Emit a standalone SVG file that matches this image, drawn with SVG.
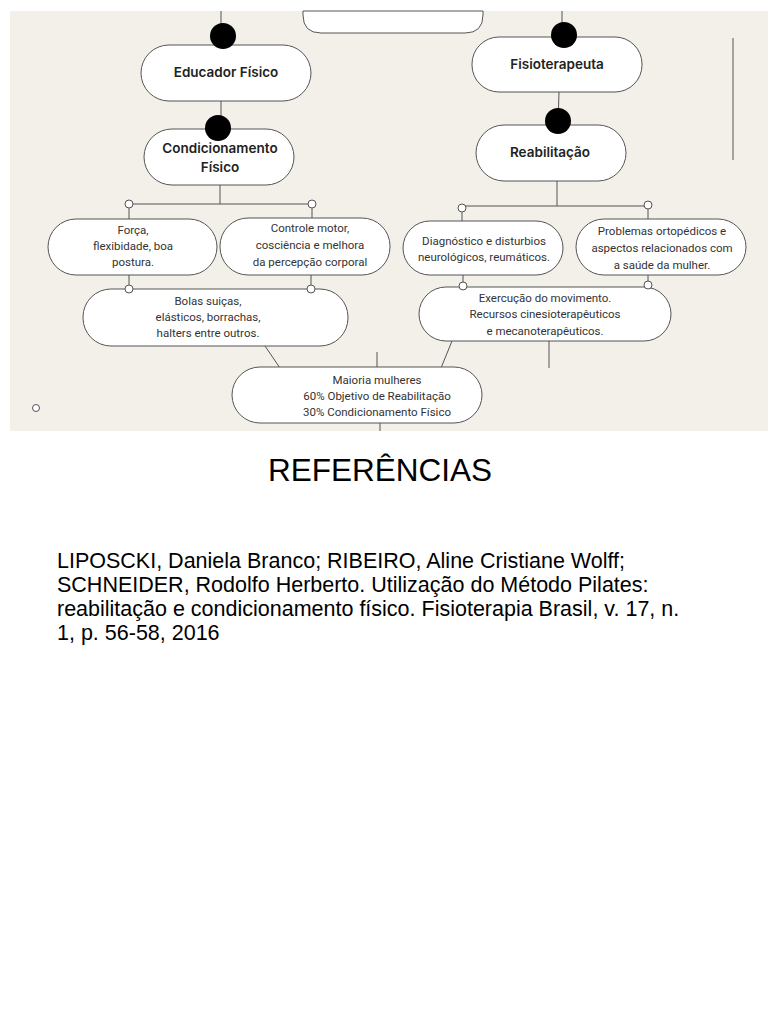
<svg xmlns="http://www.w3.org/2000/svg" width="768" height="1024" viewBox="0 0 768 1024">
<style>
.n{fill:#fff;stroke:#555;stroke-width:1}
.b{font-family:Inter,"Noto Sans",sans-serif;font-weight:600;font-size:13.5px;fill:#222;text-anchor:middle}
.t{font-family:Roboto,"Noto Sans",sans-serif;font-size:11.5px;fill:#333;text-anchor:middle}
.c line,.c path{stroke:#555;stroke-width:1;fill:none}
.o{fill:#fff;stroke:#555;stroke-width:1}
.ref{font-family:"Liberation Sans",Arial,sans-serif;fill:#000}
</style>
<rect width="768" height="1024" fill="#fff"/>
<rect x="10" y="11" width="758" height="420" fill="#f3efe9"/>
<g id="top"><path class="n" d="M303 11 L483 11 L483 15 Q483 33 465 33 L321 33 Q303 33 303 15 Z"/></g>
<g class="c" id="connectors">
<line x1="221" y1="11" x2="221" y2="45"/>
<line x1="221" y1="101" x2="221" y2="129"/>
<line x1="562" y1="11" x2="562" y2="37"/>
<line x1="559" y1="92" x2="558" y2="125"/>
<line x1="733" y1="38" x2="733" y2="160"/>
<line x1="220" y1="185" x2="220" y2="204"/>
<line x1="129" y1="204" x2="312" y2="204"/>
<line x1="129" y1="204" x2="129" y2="219"/>
<line x1="312" y1="204" x2="312" y2="218"/>
<line x1="129" y1="275" x2="129" y2="289"/>
<line x1="311" y1="275" x2="311" y2="289"/>
<line x1="557" y1="181" x2="557" y2="206"/>
<line x1="462" y1="206" x2="648" y2="206"/>
<line x1="462" y1="206" x2="462" y2="221"/>
<line x1="648" y1="206" x2="648" y2="219"/>
<line x1="463" y1="275" x2="463" y2="287"/>
<line x1="648" y1="275" x2="648" y2="287"/>
<line x1="265" y1="346" x2="280" y2="368"/>
<line x1="452" y1="341" x2="441" y2="368"/>
<line x1="377" y1="352" x2="377" y2="368"/>
<line x1="549" y1="341" x2="549" y2="368"/>
<line x1="380" y1="423" x2="380" y2="431"/>
</g>
<g id="educador"><rect class="n" x="141" y="45" width="170" height="56" rx="28"/><text class="b" x="226" y="77">Educador Físico</text><circle cx="223" cy="36" r="13"/></g>
<g id="condicionamento"><rect class="n" x="144" y="129" width="150" height="56" rx="28"/><text class="b" x="220" y="153">Condicionamento</text><text class="b" x="220" y="172">Físico</text><circle cx="218" cy="128" r="13"/></g>
<g id="fisio"><rect class="n" x="472" y="37" width="170" height="55" rx="27"/><text class="b" x="557" y="69">Fisioterapeuta</text><circle cx="564" cy="35" r="13"/></g>
<g id="reab"><rect class="n" x="476" y="125" width="150" height="56" rx="28"/><text class="b" x="550" y="157">Reabilitação</text><circle cx="558" cy="121" r="13"/></g>
<g id="forca"><rect class="n" x="48" y="219" width="169" height="56" rx="28"/><text class="t" x="133" y="234">Força,</text><text class="t" x="133" y="250">flexibidade, boa</text><text class="t" x="133" y="266">postura.</text></g>
<g id="controle"><rect class="n" x="220" y="218" width="170" height="57" rx="28"/><text class="t" x="310" y="232">Controle motor,</text><text class="t" x="310" y="249">cosciência e melhora</text><text class="t" x="310" y="266">da percepção corporal</text></g>
<g id="bolas"><rect class="n" x="83" y="289" width="265" height="57" rx="28"/><text class="t" x="208" y="305">Bolas suiças,</text><text class="t" x="208" y="321">elásticos, borrachas,</text><text class="t" x="208" y="337">halters entre outros.</text></g>
<g id="diag"><rect class="n" x="403" y="221" width="160" height="54" rx="27"/><text class="t" x="484" y="245">Diagnóstico e disturbios</text><text class="t" x="484" y="261">neurológicos, reumáticos.</text></g>
<g id="probl"><rect class="n" x="576" y="219" width="170" height="56" rx="28"/><text class="t" x="662" y="235">Problemas ortopédicos e</text><text class="t" x="662" y="252">aspectos relacionados com</text><text class="t" x="662" y="269">a saúde da mulher.</text></g>
<g id="exerc"><rect class="n" x="419" y="287" width="252" height="54" rx="27"/><text class="t" x="545" y="302">Exercução do movimento.</text><text class="t" x="545" y="318">Recursos  cinesioterapêuticos</text><text class="t" x="545" y="335">e mecanoterapêuticos.</text></g>
<g id="maioria"><rect class="n" x="232" y="367" width="250" height="56" rx="28"/><text class="t" x="377" y="384">Maioria mulheres</text><text class="t" x="377" y="400">60% Objetivo de Reabilitação</text><text class="t" x="377" y="416">30% Condicionamento Físico</text></g>
<g id="ports">
<circle class="o" cx="129" cy="204" r="4"/><circle class="o" cx="312" cy="204" r="4"/>
<circle class="o" cx="462" cy="208" r="4"/><circle class="o" cx="648" cy="205" r="4"/>
<circle class="o" cx="129" cy="289" r="4"/><circle class="o" cx="311" cy="289" r="4"/>
<circle class="o" cx="463" cy="286" r="4"/><circle class="o" cx="648" cy="285" r="4"/>
<circle class="o" cx="36" cy="408" r="3.5"/>
</g>
<text class="ref" x="380" y="481" font-size="31.5" text-anchor="middle">REFERÊNCIAS</text>
<g class="ref" font-size="21.5">
<text x="57" y="568">LIPOSCKI, Daniela Branco; RIBEIRO, Aline Cristiane Wolff;</text>
<text x="57" y="592">SCHNEIDER, Rodolfo Herberto. Utilização do Método Pilates:</text>
<text x="57" y="616">reabilitação e condicionamento físico. Fisioterapia Brasil, v. 17, n.</text>
<text x="57" y="640">1, p. 56-58, 2016</text>
</g>
</svg>
